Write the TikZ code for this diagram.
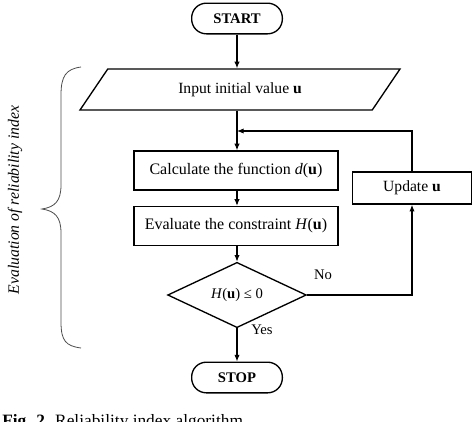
\documentclass[tikz,border=0pt]{standalone}
\usepackage{fontspec}
\setmainfont{Liberation Serif}
\usetikzlibrary{shapes.geometric,arrows.meta}
\begin{document}
\begin{tikzpicture}[x=0.75pt,y=-0.75pt,
  font=\fontsize{11}{13}\selectfont,
  terminal/.style={draw, line width=1pt, rounded corners=11pt, minimum width=68pt,
    minimum height=23pt, font=\fontsize{11}{13}\selectfont\bfseries},
  stepbox/.style={draw, line width=1.2pt, minimum width=153pt, minimum height=29pt,
    font=\fontsize{12}{14}\selectfont},
  flow/.style={-{Latex[length=5pt,width=4pt]}, line width=0.8pt}]
\useasboundingbox (0,0) rectangle (474,421);
\clip (0,0) rectangle (474,421);

% Knooppunten van het stroomschema
\node[terminal] (start) at (237,18.5) {START};
\node[trapezium, draw, line width=1pt, trapezium left angle=27, trapezium right angle=153,
  trapezium stretches body, minimum width=240pt, minimum height=30.75pt, inner sep=0pt,
  font=\fontsize{11.7}{14}\selectfont]
  (input) at (240,89.5) {Input initial value \textbf{u}};
\node[stepbox] (calc) at (236,170.5) {Calculate the function \textit{d}(\textbf{u})};
\node[stepbox] (eval) at (236,226) {Evaluate the constraint \textit{H}(\textbf{u})};
\node[diamond, draw, line width=1pt, aspect=2.14, minimum width=104pt, minimum height=49pt,
  inner sep=0pt] (cond) at (237,295) {\textit{H}(\textbf{u}) ≤ 0};
\node[draw, line width=1.2pt, minimum width=89pt, minimum height=24pt,
  font=\fontsize{11.7}{14}\selectfont] (update) at (412,188) {Update \textbf{u}};
\node[terminal] (stop) at (237,377.5) {STOP};
\coordinate (join) at (237,131);

% Verbindingen
\draw[flow] (start) -- (start |- input.north);
\draw[flow] (start |- input.south) -- (start |- calc.north);
\draw[flow] (start |- calc.south) -- (start |- eval.north);
\draw[flow] (start |- eval.south) -- (cond.north);
\draw[flow] (cond.south) -- (stop);
\draw[flow] (cond.east) -| (update.south);
\draw[flow] (update.north) |- (join);
\node (no) at (323,275) {No};
\node (yes) at (262,330) {Yes};

% Accolade met label links
\draw[black!70, line width=0.6pt] (81,67) .. controls (66,69) and (61,76) .. (61,95)
  -- (61,185) .. controls (61,201) and (55,207) .. (42,209)
  .. controls (55,211) and (61,217) .. (61,233)
  -- (61,322) .. controls (61,341) and (66,346) .. (81,348);
\node[rotate=90, font=\fontsize{11.8}{13}\selectfont\itshape] (brlabel) at (15,200)
  {Evaluation of reliability index};

% Onderschrift (onderaan afgesneden)
\node[anchor=base west, inner sep=0pt, font=\fontsize{13}{15}\selectfont] (caption) at (2,426)
  {\textbf{Fig. 2.} Reliability index algorithm};
\end{tikzpicture}
\end{document}
